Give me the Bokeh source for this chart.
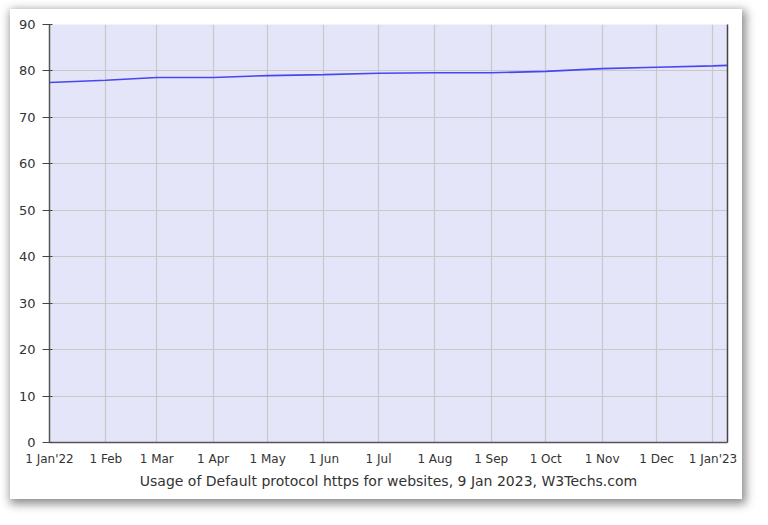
import pandas as pd
from bokeh.plotting import figure
from bokeh.models import FixedTicker, LinearAxis, Range1d, InlineStyleSheet
from bokeh.embed import file_html
from bokeh.resources import INLINE

dates = ["2022-01-01", "2022-02-01", "2022-03-01", "2022-04-01", "2022-05-01",
         "2022-06-01", "2022-07-01", "2022-08-01", "2022-09-01", "2022-10-01",
         "2022-11-01", "2022-12-01", "2023-01-01", "2023-01-09"]
usage = [77.5, 78.0, 78.6, 78.6, 79.0, 79.2, 79.5, 79.6, 79.6, 79.9,
         80.5, 80.8, 81.1, 81.2]
tick_dates = ["2022-01-01", "2022-02-01", "2022-03-01", "2022-04-01", "2022-05-01",
              "2022-06-01", "2022-07-01", "2022-08-01", "2022-09-01", "2022-10-01",
              "2022-11-01", "2022-12-01", "2023-01-01"]
tick_labels = ["1 Jan'22", "1 Feb", "1 Mar", "1 Apr", "1 May", "1 Jun", "1 Jul",
               "1 Aug", "1 Sep", "1 Oct", "1 Nov", "1 Dec", "1 Jan'23"]
y_ticks = [0, 10, 20, 30, 40, 50, 60, 70, 80, 90]
title_text = "Usage of Default protocol https for websites, 9 Jan 2023, W3Techs.com"

x = pd.to_datetime(dates)
tick_ms = [pd.Timestamp(d).value // 10**6 for d in tick_dates]
x_start = pd.Timestamp(dates[0]).value // 10**6
x_end = pd.Timestamp(dates[-1]).value // 10**6

p = figure(x_axis_type="datetime", output_backend="svg", toolbar_location=None,
           frame_width=678, frame_height=418,
           x_range=Range1d(x_start, x_end), y_range=Range1d(0, 90),
           min_border_left=49, min_border_right=25, min_border_top=24,
           min_border_bottom=67, background_fill_color="#e5e5f9",
           border_fill_color=None)
card_css = InlineStyleSheet(css="""
:host { position: relative; }
:host::before {
  content: '';
  position: absolute;
  left: 10px; top: 9px; width: 732px; height: 490px;
  background: white;
  box-shadow: 2px 3px 9px 2px rgba(0,0,0,0.45);
  z-index: -1;
}
""")
p.stylesheets = [card_css]
p.outline_line_color = None

p.line(x, usage, line_color="#4747f2", line_width=1.6)

xa = p.xaxis[0]
xa.ticker = FixedTicker(ticks=tick_ms)
xa.major_label_overrides = {t: l for t, l in zip(tick_ms, tick_labels)}
xa.major_tick_line_color = None
xa.minor_tick_line_color = None
xa.axis_line_color = "#555555"
xa.axis_line_width = 1.5
xa.major_label_text_font = "DejaVu Sans"
xa.major_label_text_font_size = "12px"
xa.major_label_text_color = "#333333"
xa.major_label_standoff = 3
xa.axis_label = title_text
xa.axis_label_text_font = "DejaVu Sans"
xa.axis_label_text_font_size = "14px"
xa.axis_label_text_font_style = "normal"
xa.axis_label_text_color = "#333333"
xa.axis_label_standoff = 4

ya = p.yaxis[0]
ya.ticker = FixedTicker(ticks=y_ticks)
ya.minor_tick_line_color = None
ya.major_tick_out = 7
ya.major_tick_in = 3
ya.major_tick_line_color = "#444444"
ya.axis_line_color = "#555555"
ya.axis_line_width = 1.5
ya.major_label_text_font = "DejaVu Sans"
ya.major_label_text_font_size = "13px"
ya.major_label_text_color = "#333333"
ya.major_label_standoff = 7

right = LinearAxis(ticker=FixedTicker(ticks=[]), major_label_text_font_size="0px",
                   major_tick_line_color=None, minor_tick_line_color=None,
                   axis_line_color="#444444", axis_line_width=1.5)
p.add_layout(right, "right")

p.xgrid.ticker = FixedTicker(ticks=tick_ms)
p.ygrid.ticker = FixedTicker(ticks=y_ticks)
p.grid.grid_line_color = "#c8c8c8"
p.grid.grid_line_width = 1.2

open("out.html", "w").write(file_html(p, INLINE))
